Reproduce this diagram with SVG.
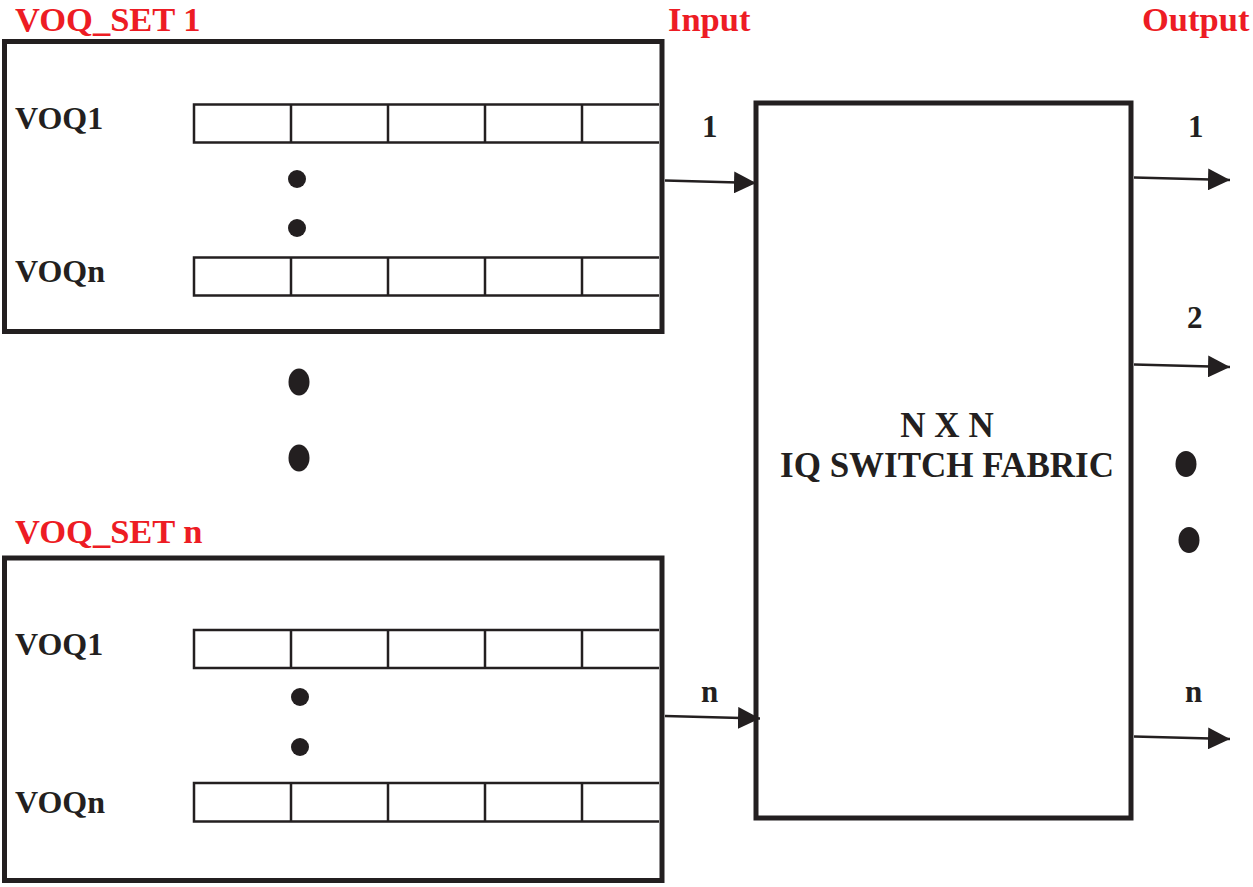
<svg xmlns="http://www.w3.org/2000/svg" width="1253" height="887" viewBox="0 0 1253 887">
<defs>
<style>
.box{fill:none;stroke:#231F20;stroke-width:5}
.q{fill:none;stroke:#231F20;stroke-width:2.5}
.lbl{font-family:"Liberation Serif",serif;font-weight:bold;fill:#231F20}
.red{font-family:"Liberation Serif",serif;font-weight:bold;fill:#ED1C24;font-size:34.5px}
.voq{font-size:32px}
.num{font-size:31px}
.fab{font-size:35px}
.dot{fill:#231F20}
.arr{stroke:#231F20;stroke-width:2.5;fill:none;marker-end:url(#ah)}
</style>
<marker id="ah" viewBox="0 0 22 22" refX="22" refY="11" markerWidth="22" markerHeight="22" markerUnits="userSpaceOnUse" orient="auto">
<path d="M0,0 L22,11 L0,22 Z" fill="#231F20"/>
</marker>
</defs>
<rect width="1253" height="887" fill="#fff"/>

<g id="voq_set_1">
<text class="red" x="15" y="31">VOQ_SET 1</text>
<rect class="box" x="4.5" y="41.5" width="657.5" height="290"/>
<text class="lbl voq" x="15" y="129">VOQ1</text>
<path class="q" d="M659,104.5 H194 V142.5 H659 M291,104.5 V142.5 M388,104.5 V142.5 M485,104.5 V142.5 M582,104.5 V142.5"/>
<circle class="dot" cx="297" cy="179" r="9"/>
<circle class="dot" cx="297" cy="228" r="9"/>
<text class="lbl voq" x="15" y="282">VOQn</text>
<path class="q" d="M659,257.5 H194 V295.5 H659 M291,257.5 V295.5 M388,257.5 V295.5 M485,257.5 V295.5 M582,257.5 V295.5"/>
</g>

<g id="set_ellipsis">
<ellipse class="dot" cx="299" cy="382" rx="10.5" ry="13.5"/>
<ellipse class="dot" cx="299" cy="458" rx="10.5" ry="13.5"/>
</g>

<g id="voq_set_n">
<text class="red" x="15" y="543">VOQ_SET n</text>
<rect class="box" x="4.5" y="558" width="657.5" height="322.5"/>
<text class="lbl voq" x="15" y="655">VOQ1</text>
<path class="q" d="M659,630 H194 V668 H659 M291,630 V668 M388,630 V668 M485,630 V668 M582,630 V668"/>
<circle class="dot" cx="300" cy="697" r="9"/>
<circle class="dot" cx="300" cy="747" r="9"/>
<text class="lbl voq" x="15" y="813">VOQn</text>
<path class="q" d="M659,783 H194 V821.5 H659 M291,783 V821.5 M388,783 V821.5 M485,783 V821.5 M582,783 V821.5"/>
</g>

<g id="fabric">
<rect class="box" x="756" y="103" width="375" height="715"/>
<text class="lbl fab" x="947" y="437" text-anchor="middle">N X N</text>
<text class="lbl fab" x="947" y="477" text-anchor="middle">IQ SWITCH FABRIC</text>
</g>

<g id="headers">
<text class="red" x="668" y="31">Input</text>
<text class="red" x="1142" y="31">Output</text>
</g>

<g id="output_ellipsis">
<ellipse class="dot" cx="1186" cy="464" rx="10.5" ry="13"/>
<ellipse class="dot" cx="1189" cy="540" rx="10.5" ry="13"/>
</g>

<g id="connectors">
<path class="arr" d="M665,180.5 L756,183"/>
<path class="arr" d="M665,716 L760,718.5"/>
<path class="arr" d="M1134,177.5 L1230,180"/>
<path class="arr" d="M1134,364.5 L1230,367"/>
<path class="arr" d="M1134,736.5 L1230,739"/>
<text class="lbl num" x="702" y="137">1</text>
<text class="lbl num" x="701" y="702">n</text>
<text class="lbl num" x="1188" y="137">1</text>
<text class="lbl num" x="1187" y="328">2</text>
<text class="lbl num" x="1185" y="702">n</text>
</g>
</svg>
